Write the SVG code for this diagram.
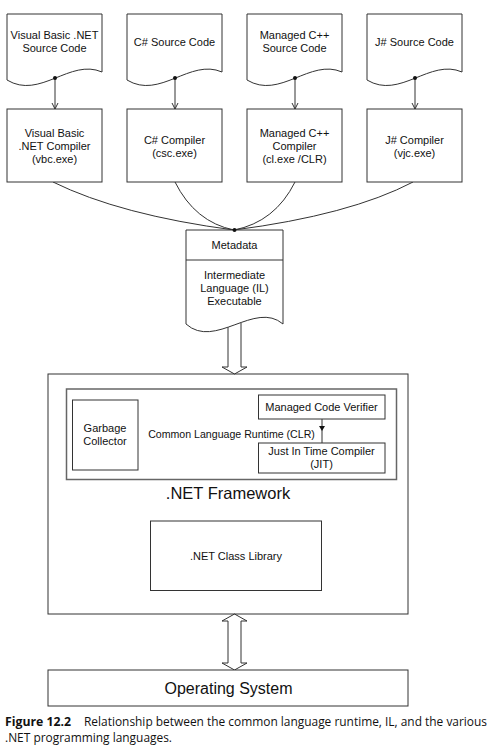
<svg xmlns="http://www.w3.org/2000/svg" width="492" height="747" viewBox="0 0 492 747">
<style>
.s{fill:#fff;stroke:#333;stroke-width:1}
.c{fill:none;stroke:#333;stroke-width:1}
.t{font-family:"Liberation Sans",Arial,sans-serif;font-size:11px;fill:#111;text-anchor:middle}
.big{font-size:16.5px}
.cap{font-family:"Open Sans","Noto Sans",sans-serif;font-size:12px;fill:#111}
</style>
<defs>
<path id="doc" d="M0,0 H95 V58 C63,44 33,86 0,66 Z"/>
</defs>
<g id="connectors">
<g class="c">
<path d="M55,78 V109 M52,103 L55,109 L58,103"/>
<path d="M175,78 V109 M172,103 L175,109 L178,103"/>
<path d="M295,78 V109 M292,103 L295,109 L298,103"/>
<path d="M415,78 V109 M412,103 L415,109 L418,103"/>
<path d="M53,182 Q120,215 234,230"/>
<path d="M175,182 Q195,222 234,230"/>
<path d="M295,182 Q275,222 234,230"/>
<path d="M413,182 Q350,215 234,230"/>
<path d="M322,419 V443"/>
</g>
<polygon points="319,426 325,426 322,431" fill="#111"/>
<path class="s" d="M228,318 V367 H222 L234.5,374 L247,367 H241 V318 Z"/>
<path class="s" d="M234.5,614 L247,621 H241 V663 H247 L234.5,670 L222,663 H228 V621 H222 Z"/>
</g>
<g id="src-vb"><use href="#doc" x="7" y="14" class="s"/><text class="t" x="54.5" y="39">Visual Basic .NET</text><text class="t" x="54.5" y="52">Source Code</text></g>
<g id="src-cs"><use href="#doc" x="127" y="14" class="s"/><text class="t" x="174.5" y="46">C# Source Code</text></g>
<g id="src-cpp"><use href="#doc" x="247" y="14" class="s"/><text class="t" x="294.5" y="39">Managed C++</text><text class="t" x="294.5" y="52">Source Code</text></g>
<g id="src-js"><use href="#doc" x="367" y="14" class="s"/><text class="t" x="414.5" y="46">J# Source Code</text></g>
<g fill="#111"><circle cx="55" cy="78" r="2"/><circle cx="175" cy="78" r="2"/><circle cx="295" cy="78" r="2"/><circle cx="415" cy="78" r="2"/></g>
<g id="cmp-vb"><rect class="s" x="7" y="109" width="95" height="73"/><text class="t" x="54.5" y="137">Visual Basic</text><text class="t" x="54.5" y="150">.NET Compiler</text><text class="t" x="54.5" y="163">(vbc.exe)</text></g>
<g id="cmp-cs"><rect class="s" x="127" y="109" width="95" height="73"/><text class="t" x="174.5" y="144">C# Compiler</text><text class="t" x="174.5" y="157">(csc.exe)</text></g>
<g id="cmp-cpp"><rect class="s" x="247" y="109" width="95" height="73"/><text class="t" x="294.5" y="137">Managed C++</text><text class="t" x="294.5" y="150">Compiler</text><text class="t" x="294.5" y="163">(cl.exe /CLR)</text></g>
<g id="cmp-js"><rect class="s" x="367" y="109" width="95" height="73"/><text class="t" x="414.5" y="144">J# Compiler</text><text class="t" x="414.5" y="157">(vjc.exe)</text></g>
<g id="il">
<path class="s" d="M186,230 H283 V324 C255,300 215,350 186,324 Z"/>
<line class="c" x1="186" y1="260" x2="283" y2="260"/>
<circle cx="234.5" cy="230" r="2" fill="#111"/>
<text class="t" x="234.5" y="249">Metadata</text>
<text class="t" x="234.5" y="279">Intermediate</text>
<text class="t" x="234.5" y="292">Language (IL)</text>
<text class="t" x="234.5" y="305">Executable</text>
</g>
<g id="framework">
<rect class="c" x="48" y="374" width="360" height="240"/>
<text class="t big" x="228" y="499">.NET Framework</text>
</g>
<g id="clr">
<rect x="66.5" y="389" width="330" height="90.5" fill="none" stroke="#666" stroke-width="1.5"/>
<text class="t" x="231.5" y="438" style="font-size:10.6px">Common Language Runtime (CLR)</text>
</g>
<g id="gc"><rect class="s" x="72.5" y="400" width="65.5" height="70"/><text class="t" x="105" y="432">Garbage</text><text class="t" x="105" y="445">Collector</text></g>
<g id="verifier"><rect class="s" x="258.5" y="395" width="126.5" height="24"/><text class="t" x="321.5" y="411">Managed Code Verifier</text></g>
<g id="jit"><rect class="s" x="258.5" y="443" width="126.5" height="30"/><text class="t" x="321.5" y="455">Just In Time Compiler</text><text class="t" x="321.5" y="468">(JIT)</text></g>
<g id="classlib"><rect class="s" x="150.5" y="521" width="171" height="69.5"/><text class="t" x="236" y="560">.NET Class Library</text></g>
<g id="os"><rect class="s" x="48" y="670" width="360" height="36"/><text class="t" x="228.5" y="694" style="font-size:16px">Operating System</text></g>
<g id="caption">
<text class="cap" x="5" y="726" font-weight="bold" textLength="66" lengthAdjust="spacingAndGlyphs">Figure 12.2</text>
<text class="cap" x="84" y="726" textLength="403" lengthAdjust="spacingAndGlyphs">Relationship between the common language runtime, IL, and the various</text>
<text class="cap" x="5" y="742" textLength="167" lengthAdjust="spacingAndGlyphs">.NET programming languages.</text>
</g>
</svg>
